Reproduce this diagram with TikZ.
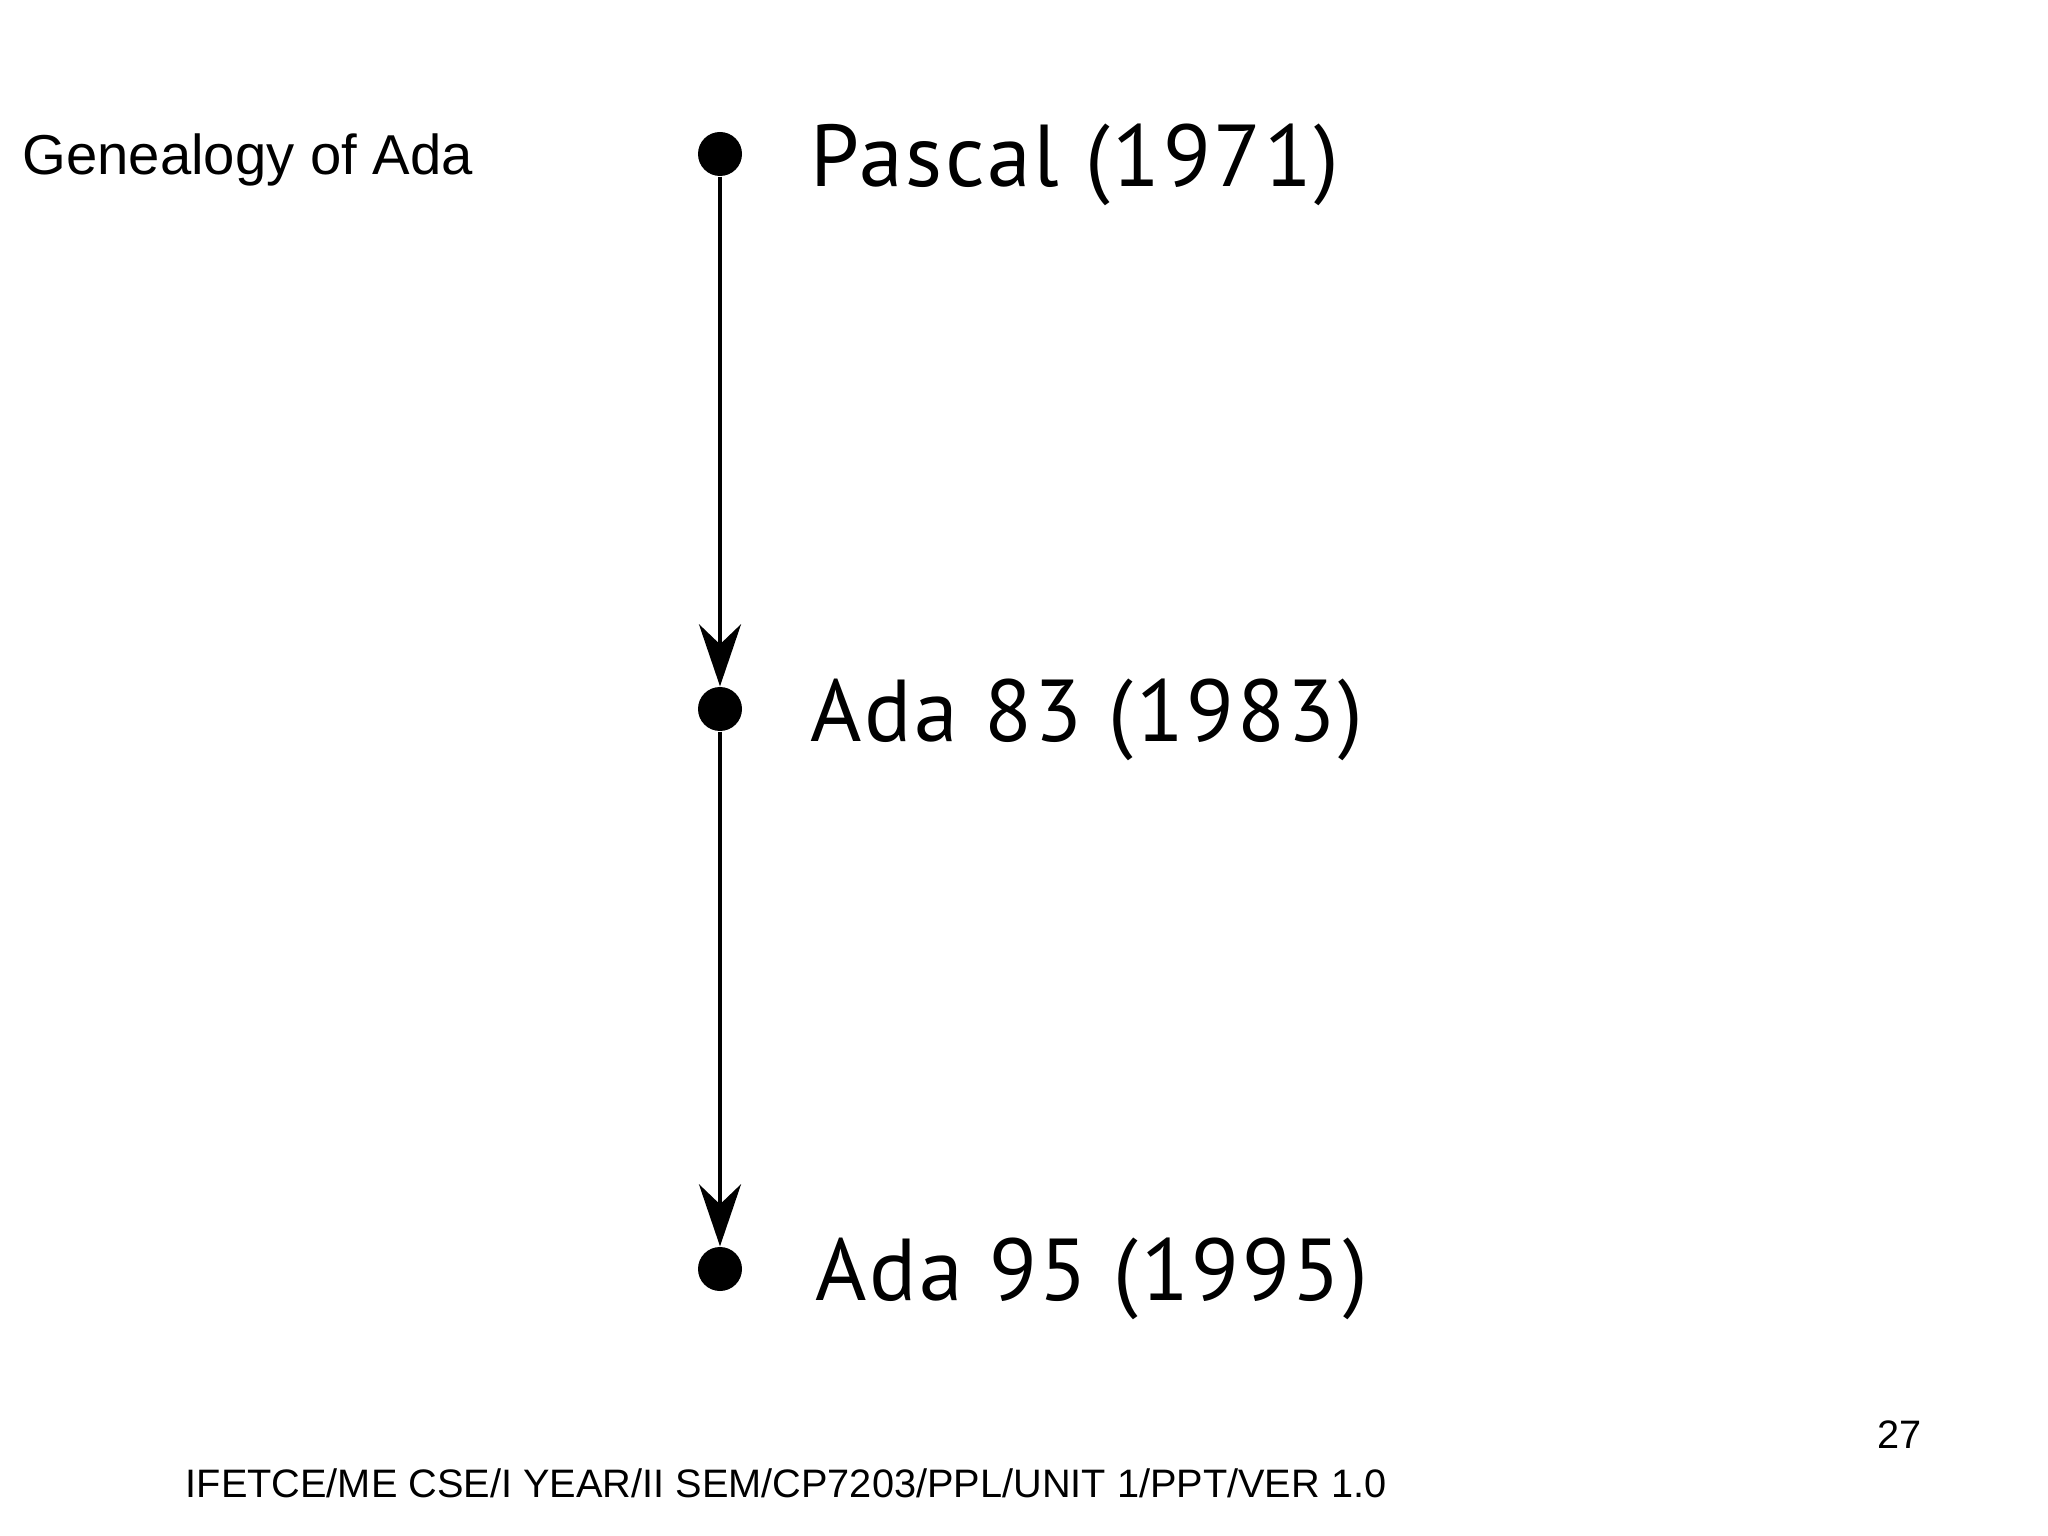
\documentclass[tikz,border=0pt]{standalone}
\usepackage{fontspec}
\setmainfont{Liberation Sans}
\newfontfamily\labelfont[LetterSpace=3]{PT Sans}
\usepackage{tikz}
\usetikzlibrary{arrows.meta}
\usetikzlibrary{positioning}

\tikzset{
	dot/.style={circle,fill=black,inner sep=0pt,minimum size=0.44cm},
	lang/.style={anchor=base west,inner sep=0pt,font=\labelfont\fontsize{25}{29}\selectfont},
	conn/.style={line width=1.2pt,-{Stealth[length=0.62cm,width=0.42cm,inset=0.2cm]}},
	plain/.style={inner sep=0pt}
}

\begin{document}
\begin{tikzpicture}[transform shape,scale=1]
	\useasboundingbox (0,0) rectangle (20.48,-15.36);
	% title and footer
	\node[plain,anchor=base west,font=\fontsize{16}{19}\selectfont] (title) at (0.22,-1.75) {Genealogy of Ada};
	\node[plain,anchor=base west,font=\fontsize{11.3}{13}\selectfont] (footer) at (1.85,-14.97) {IFETCE/ME CSE/I YEAR/II SEM/CP7203/PPL/UNIT 1/PPT/VER 1.0};
	\node[plain,anchor=base east,font=\fontsize{11.3}{13}\selectfont] (pagenum) at (19.22,-14.48) {27};
	% the three languages
	\node[dot] (pascal) at (7.20,-1.54) {};
	\node[dot] (ada83) at (7.20,-7.09) {};
	\node[dot] (ada95) at (7.20,-12.69) {};
	\node[lang] (pascallbl) at (8.10,-1.87) {Pascal (1971)};
	\node[lang] (ada83lbl) at (8.10,-7.41) {Ada 83 (1983)};
	\node[lang] (ada95lbl) at (8.15,-13.00) {Ada 95 (1995)};
	\draw[conn] (pascal) -- (ada83);
	\draw[conn] (ada83) -- (ada95);
\end{tikzpicture}
\end{document}
